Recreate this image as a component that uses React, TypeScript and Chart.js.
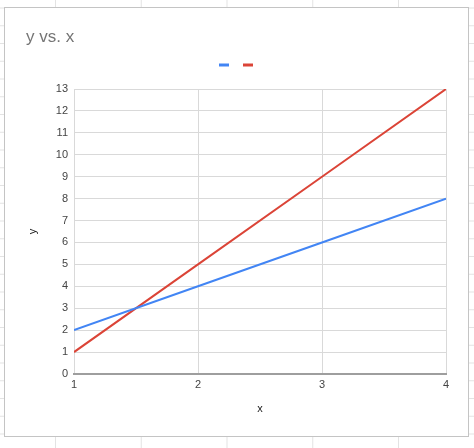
import React, { useEffect, useRef } from "react";
import { Chart, registerables } from "chart.js";

Chart.register(...registerables);

const xValues = [1, 2, 3, 4];
const blueSeries = [2, 4, 6, 8];
const redSeries = [1, 5, 9, 13];
const seriesColors = ["#4285f4", "#db4437"];
const chartTitle = "y vs. x";
const xAxisTitle = "x";
const yAxisTitle = "y";

const FONT = "'Liberation Sans', Arial, sans-serif";

export default function App() {
  const canvasRef = useRef<HTMLCanvasElement | null>(null);

  useEffect(() => {
    const canvas = canvasRef.current;
    if (!canvas) return;
    const chart = new Chart(canvas, {
      type: "line",
      data: {
        datasets: [blueSeries, redSeries].map((ys, i) => ({
          label: "",
          data: xValues.map((x, j) => ({ x, y: ys[j] })),
          borderColor: seriesColors[i],
          backgroundColor: seriesColors[i],
          borderWidth: 2,
          pointRadius: 0,
          tension: 0,
        })),
      },
      options: {
        animation: false,
        responsive: false,
        maintainAspectRatio: false,
        layout: { padding: { left: 21, right: 8, top: 0, bottom: 0 } },
        plugins: {
          tooltip: { enabled: false },
          title: {
            display: true,
            text: chartTitle,
            align: "start",
            color: "#757575",
            font: { family: FONT, size: 17, weight: "normal" },
            padding: { top: 19, bottom: 3.6 },
          },
          legend: {
            display: true,
            position: "top",
            labels: {
              boxWidth: 10,
              boxHeight: 3,
              padding: 0,
              font: { family: FONT, size: 28 },
              generateLabels: (c: any) =>
                c.data.datasets.map((ds: any, i: number) => ({
                  text: "",
                  fillStyle: ds.borderColor,
                  strokeStyle: ds.borderColor,
                  lineWidth: 0,
                  hidden: false,
                  datasetIndex: i,
                })),
            },
          },
        },
        scales: {
          x: {
            type: "linear",
            min: 1,
            max: 4,
            ticks: {
              stepSize: 1,
              padding: 4,
              color: "#444",
              font: { family: FONT, size: 11 },
            },
            grid: { color: "#d9d9d9", drawTicks: false },
            border: { display: true, color: "#9e9e9e", width: 2 },
            title: {
              display: true,
              text: xAxisTitle,
              color: "#222",
              font: { family: FONT, size: 11 },
              padding: { top: 0, bottom: 20 },
            },
            afterFit: (s: any) => {
              s.height = 62;
            },
          },
          y: {
            type: "linear",
            min: 0,
            max: 13,
            ticks: {
              stepSize: 1,
              padding: 6,
              color: "#444",
              font: { family: FONT, size: 11 },
            },
            grid: { color: "#d9d9d9", drawTicks: false },
            border: { display: false },
            title: {
              display: true,
              text: yAxisTitle,
              color: "#222",
              font: { family: FONT, size: 11 },
              padding: { top: 0, bottom: 0 },
            },
            afterFit: (s: any) => {
              s.width = 48;
            },
          },
          spacer: {
            type: "linear",
            position: "right",
            display: true,
            grid: { display: false },
            ticks: { display: false },
            border: { display: false },
            afterFit: (s: any) => {
              s.width = 14;
            },
          },
        },
      },
    } as any);
    return () => chart.destroy();
  }, []);

  return (
    <div
      style={{
        position: "fixed",
        left: 0,
        top: 0,
        width: 474,
        height: 448,
        background: "#fff",
        backgroundImage:
          "linear-gradient(to right, #e3e3e3 1px, transparent 1px), linear-gradient(to bottom, #e3e3e3 1px, transparent 1px)",
        backgroundSize: "85.75px 17.75px",
        backgroundPosition: "55px 7.5px",
        overflow: "hidden",
      }}
    >
      <div
        style={{
          position: "absolute",
          left: 4,
          top: 7,
          width: 463,
          height: 428,
          border: "1px solid #c4c4c4",
          background: "#fff",
        }}
      >
        <canvas ref={canvasRef} width={463} height={428} style={{ display: "block" }} />
      </div>
    </div>
  );
}
